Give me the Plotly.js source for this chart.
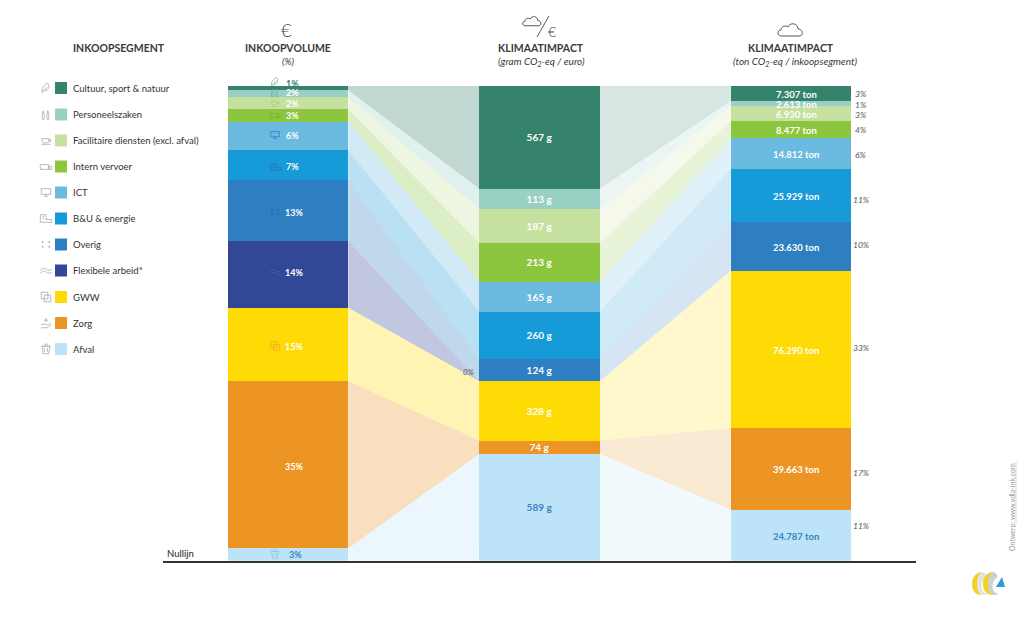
<!DOCTYPE html>
<html>
<head>
<meta charset="utf-8">
<script src="https://cdn.plot.ly/plotly-3.0.1.min.js"></script>
<style>html,body{margin:0;padding:0;background:#fff}#chart{width:1024px;height:620px}</style>
</head>
<body>
<div id="chart"></div>
<script>
// ---------- data ----------
const segments = ['Cultuur, sport & natuur','Personeelszaken','Facilitaire diensten (excl. afval)','Intern vervoer','ICT','B&U & energie','Overig','Flexibele arbeid*','GWW','Zorg','Afval'];
const colors = ['#35826d','#9acfc4','#c6e0a0','#8cc63e','#6bbae0','#169bd8','#2e7fc1','#324795','#fedb04','#ec9524','#bce3f7'];
const volume = [0.9,1.5,2.5,2.6,6.1,6.3,12.8,14.1,15.5,35.3,2.6];
const volumeLabels = ['1%','2%','2%','3%','6%','7%','13%','14%','15%','35%','3%'];
const gramPerEuro = [567,113,187,213,165,260,124,0,328,74,589];
const gramLabels = ['567 g','113 g','187 g','213 g','165 g','260 g','124 g','','328 g','74 g','589 g'];
const tonPerSegment = [7307,2613,6930,8477,14812,25929,23630,0,76290,39663,24787];
const tonLabels = ['7.307 ton','2.613 ton','6.930 ton','8.477 ton','14.812 ton','25.929 ton','23.630 ton','','76.290 ton','39.663 ton','24.787 ton'];
const tonShares = ['3%','1%','3%','4%','6%','11%','10%','','33%','17%','11%'];

// ---------- layout helpers (page pixels -> paper fractions) ----------
const W = 1024, H = 620, FONT = 'Lato, "Open Sans", sans-serif';
const px = x => x / W, py = y => 1 - y / H;
const BW = 0.479;
const DARK = '#3a3a3a';
const sum = a => a.reduce((s, v) => s + v, 0);

const traces = [];
const columns = [
  {vals: volume, axis: 'y'},
  {vals: gramPerEuro, labels: gramLabels, axis: 'y2'},
  {vals: tonPerSegment, axis: 'y3'}
];

// ribbons, on a 0-1 share axis
function edges(vals) {
  const t = sum(vals); let c = 0; const out = [1];
  vals.forEach(v => { c += v; out.push(1 - c / t); });
  return out;
}
const alpha = [0.3, 0.2];
function rgba(hex, a) {
  const n = parseInt(hex.slice(1), 16);
  return `rgba(${n >> 16},${(n >> 8) & 255},${n & 255},${a})`;
}
for (let c = 0; c < 2; c++) {
  const A = edges(columns[c].vals), B = edges(columns[c + 1].vals);
  const x0 = c + BW / 2, x1 = c + 1 - BW / 2;
  segments.forEach((s, i) => {
    if (columns[c].vals[i] === 0 && columns[c + 1].vals[i] === 0) return;
    traces.push({type: 'scatter', mode: 'lines', yaxis: 'y4', xaxis: 'x',
      x: [x0, x1, x1, x0, x0], y: [A[i], B[i], B[i + 1], A[i + 1], A[i]],
      fill: 'toself', fillcolor: rgba(colors[i], alpha[c]), line: {width: 0},
      hoverinfo: 'skip', showlegend: false});
  });
}

// stacked bars, bottom segment first
columns.forEach((col, c) => {
  for (let i = segments.length - 1; i >= 0; i--) {
    if (col.vals[i] === 0) continue;
    const t = {type: 'bar', x: [c], y: [col.vals[i]], yaxis: col.axis, xaxis: 'x', width: BW,
      name: segments[i], marker: {color: colors[i], line: {width: 0}}, showlegend: false};
    if (col.labels && col.labels[i]) {
      t.text = [col.labels[i]];
      t.textposition = 'inside';
      t.insidetextanchor = 'middle';
      t.constraintext = 'none';
      t.textangle = 0;
      t.insidetextfont = {family: FONT, size: 10, weight: 700, color: i === 10 ? '#3b82c4' : '#ffffff'};
    }
    traces.push(t);
  }
});

// ---------- annotations ----------
const ann = [];
const txt = (x, y, text, o = {}) => ann.push({
  xref: 'paper', yref: 'paper', x: px(x), y: py(y), text, showarrow: false,
  xanchor: o.xa || 'center', yanchor: 'middle', align: o.xa || 'center',
  font: {family: FONT, size: o.size || 9, color: o.color || DARK, weight: o.weight || 400, style: o.style || 'normal'},
  textangle: o.angle || 0
});

// headers
txt(119, 48, 'INKOOPSEGMENT', {size: 10.5, weight: 700});
txt(288, 48, 'INKOOPVOLUME', {size: 10.5, weight: 700});
txt(288, 61, '(%)', {size: 9.5, style: 'italic'});
txt(541, 48, 'KLIMAATIMPACT', {size: 10.5, weight: 700});
txt(541, 61, '(gram CO<sub>2</sub>-eq / euro)', {size: 10, style: 'italic'});
txt(791, 48, 'KLIMAATIMPACT', {size: 10.5, weight: 700});
txt(794.5, 61, '(ton CO<sub>2</sub>-eq / inkoopsegment)', {size: 10, style: 'italic'});
txt(286.5, 29.5, '€', {size: 18, weight: 300, color: '#444'});
txt(551.5, 31, '€', {size: 14, weight: 300, color: '#444'});

// legend
const legendY = [88,114.5,140.5,166.5,192.5,218.5,244.5,270.5,297,323,349];
segments.forEach((s, i) => txt(71, legendY[i], s, {xa: 'left', size: 9.5, color: '#333'}));

// first-column value labels
const volY = [83,92.5,103,115,135,167,212,272,346,467,554];
const volX = [292,292,292,292,292,292,294,294,294,294,295];
volumeLabels.forEach((l, i) => txt(volX[i], volY[i], l, {size: 9, weight: 700, color: i === 0 ? '#35826d' : i === 10 ? '#3b82c4' : '#ffffff'}));

// third-column value labels, tied to the bar midpoints on their own axis
let tonTop = sum(tonPerSegment);
tonLabels.forEach((l, i) => {
  const mid = tonTop - tonPerSegment[i] / 2;
  tonTop -= tonPerSegment[i];
  if (!l) return;
  ann.push({xref: 'x', yref: 'y3', x: 2, y: mid, text: l, showarrow: false, xshift: 5, yshift: -1,
    xanchor: 'center', yanchor: 'middle',
    font: {family: FONT, size: 9.5, weight: 700, color: i === 10 ? '#3b82c4' : '#ffffff'}});
});

// third-column shares
const shareY = [94,105,115,130,155,200,245,0,348,473,526];
tonShares.forEach((l, i) => { if (l) txt(861, shareY[i], l, {size: 8.5, style: 'italic', color: '#555'}); });

txt(468, 372, '0%', {size: 8, style: 'italic', color: '#555'});
txt(165, 553, 'Nullijn', {xa: 'left', size: 9.5, color: '#222'});
txt(1012, 507, 'Ontwerp: www.vdla-ink.com', {size: 7, color: '#9a9a9a', angle: -90});

// ---------- shapes ----------
const shapes = [];
legendY.forEach((y, i) => shapes.push({type: 'rect', xref: 'paper', yref: 'paper',
  x0: px(55), x1: px(67), y0: py(y - 6), y1: py(y + 6), fillcolor: colors[i], line: {width: 0}}));

function path(d, ox, oy, s) {
  const parts = d.match(/[MLCQZ]|-?[\d.]+/g); let out = '', isX = true;
  parts.forEach(p => {
    if (/[MLCQZ]/.test(p)) { out += p; isX = true; }
    else { const v = parseFloat(p); out += (isX ? px(ox + v * s) : py(oy + v * s)).toFixed(5) + ' '; isX = !isX; }
  });
  return out;
}
function draw(d, ox, oy, s, color, w, fill) {
  shapes.push({type: 'path', xref: 'paper', yref: 'paper', path: path(d, ox, oy, s),
    line: {color, width: w === undefined ? 0.8 : w}, fillcolor: fill || 'rgba(0,0,0,0)'});
}
const icons = [
  'M-4 5 C-5 0 -2 -4 2 -5 C4 -2 3 3 -2 3 M-4 5 L1 -1',
  'M-4 5 L-4 0 L-3 -4 L-2 0 L-2 5 Z M1 5 L1 0 L2 -4 L3 0 L3 5 Z',
  'M-4 -2 L3 -2 L3 1 C3 3 -4 3 -4 1 Z M3 -1 L5 -1 L5 1 L3 1 M-5 4 L5 4',
  'M-6 -2 L3 -2 L3 3 L-6 3 Z M3 0 L6 0 L6 3 L3 3 Z',
  'M-5 -4 L5 -4 L5 2 L-5 2 Z M0 2 L0 4 M-2 4 L2 4',
  'M-6 4 L-6 -4 L0 -4 L0 1 L6 1 L6 4 Z M-4 -2 L-2 -2 M-4 0 L-2 0',
  'M-4 -3 L-3 -3 L-3 -2 L-4 -2 Z M3 -3 L4 -3 L4 -2 L3 -2 Z M-4 2 L-3 2 L-3 3 L-4 3 Z M3 2 L4 2 L4 3 L3 3 Z',
  'M-6 0 C-3 -3 -1 -3 1 -1 C2 0 4 0 6 -1 M-6 3 C-3 0 -1 0 1 2 C2 3 4 3 6 2',
  'M-5 -5 L2 -5 L2 2 L-5 2 Z M-2 -2 L5 -2 L5 5 L-2 5 Z',
  'M-5 2 C-2 0 0 2 2 2 L5 0 M-5 5 L2 5 L5 2 M0 -5 L0 -1 M-2 -3 L2 -3',
  'M-4 -3 L4 -3 L3 5 L-3 5 Z M-5 -3 L5 -3 M-2 -5 L2 -5 M-1.5 -1 L-1.5 3 M1.5 -1 L1.5 3'
];
const barIconColor = ['#7fb3a4','#7db0a8','#b7c87a','#76ad33','#2e7fc1','#2d6db5','#2a5f9e','#2e6fb5','#f0a52a','#f0a52a','#8ec5e8'];
icons.forEach((d, i) => {
  draw(d, 46, legendY[i], 0.95, '#a8a8a8');
  if (i !== 9) draw(d, i === 5 ? 276 : 275, volY[i] + (i === 0 ? -1 : 0), 0.85, barIconColor[i]);
});

// header pictograms
const cloud = 'M4 13 C0 13 0 7 4 7 C4 3 9 2 11 4 C13 -1 21 0 21 6 C26 6 27 13 22 13 Z';
draw(cloud, 777, 23, 1, '#444', 0.9);
draw(cloud, 522, 16, 0.75, '#444', 0.9);
draw('M0 0 L-12 21', 549, 16, 1, '#444', 0.9);

// credit underline and logo
shapes.push({type: 'line', xref: 'paper', yref: 'paper', x0: px(1016), x1: px(1016), y0: py(462), y1: py(523), line: {color: '#aaa', width: 0.5}});
const ring = 'M9 0 C3 1 0 6 0 12 C0 18 3 23 9 23 C6 20 5 16 5 12 C5 7 6 3 9 0 Z';
const tail = 'M9 0 C13 0 15 2 15 5 C12 7 10 10 10 14 C10 18 12 21 16 22 C14 23 11 23 9 23 C6 20 5 16 5 12 C5 7 6 3 9 0 Z';
draw(tail, 971.5, 572, 1, '#e4e4e4', 0, '#e4e4e4');
draw(ring, 972, 572, 1, '#f3d224', 0, '#f3d224');
draw(tail, 982.5, 572, 1, '#cfcfcf', 0, '#cfcfcf');
draw(ring, 983, 572, 1, '#f3d224', 0, '#f3d224');
draw('M0 10 L6 0 L9 10 Z', 996, 577, 1, '#2e9bd6', 0, '#2e9bd6');

// ---------- figure ----------
const yDomain = [py(560.7), py(86)];
const hiddenY = (range, over) => Object.assign({domain: yDomain, range, visible: false, fixedrange: true}, over ? {overlaying: 'y'} : {});
const layout = {
  width: W, height: H, margin: {l: 0, r: 0, t: 0, b: 0}, paper_bgcolor: '#fff', plot_bgcolor: 'rgba(0,0,0,0)',
  barmode: 'stack', showlegend: false, font: {family: FONT},
  xaxis: {domain: [px(163), px(916)], range: [-0.497, 2.497], showgrid: false, zeroline: false,
    showticklabels: false, ticks: '', showline: true, linecolor: '#333', linewidth: 2, fixedrange: true},
  yaxis: hiddenY([0, sum(volume)]),
  yaxis2: hiddenY([0, sum(gramPerEuro)], true),
  yaxis3: hiddenY([0, sum(tonPerSegment)], true),
  yaxis4: hiddenY([0, 1], true),
  annotations: ann, shapes
};
Plotly.newPlot('chart', traces, layout, {displayModeBar: false, staticPlot: true});
</script>
</body>
</html>
